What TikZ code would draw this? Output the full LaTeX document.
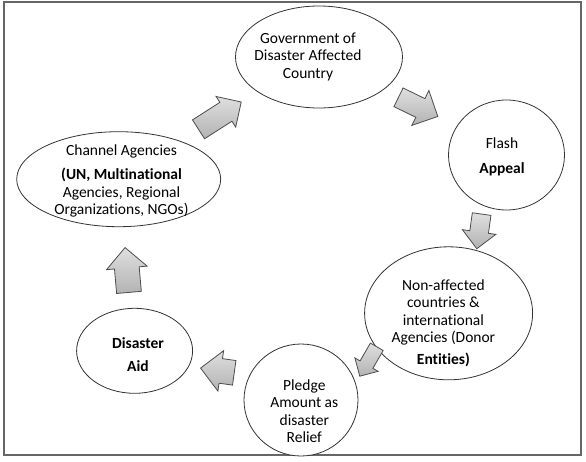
\documentclass[tikz,border=0pt]{standalone}
\usepackage{fontspec}
\setmainfont{Carlito}[Ligatures=NoCommon]
\usetikzlibrary{shapes.geometric,shapes.arrows}

\tikzset{
  bubble/.style={ellipse, draw=black!80, line width=0.8pt, fill=white, inner sep=0pt},
  txt/.style={align=center, font=\fontsize{15.5}{17.5}\selectfont, inner sep=0pt},
  blockarrow/.style={single arrow, draw=black!70, line width=0.8pt,
    top color=gray!25, bottom color=gray!60, inner xsep=0pt,
    minimum width=0pt, anchor=tip},
}

\begin{document}
\begin{tikzpicture}[x=1pt, y=-1pt]
\useasboundingbox (0,0) rectangle (586,461);
\draw[black!60, line width=1.5pt] (4,2) rectangle (581,455);

% the six stages of the cycle
\node[bubble, minimum width=167pt, minimum height=102pt] (gov) at (319,57) {};
\node[bubble, minimum width=116pt, minimum height=110pt] (flash) at (506.5,155) {};
\node[bubble, minimum width=168pt, minimum height=133pt] (donor) at (448.6,313.3) {};
\node[bubble, minimum width=114pt, minimum height=112pt] (pledge) at (301,400) {};
\node[bubble, minimum width=116pt, minimum height=85pt] (aid) at (134.6,350.8) {};
\node[bubble, minimum width=204pt, minimum height=95pt] (channel) at (118.7,179.2) {};

% texts
\node[txt] (govt) at (308,56.5) {Government of\\Disaster Affected\\Country};
\node[txt] (flasht) at (502,156.5) {Flash\\[7.5pt]\textbf{Appeal}};
\node[txt] (donort) at (443.4,323) {Non-affected\\countries \&\\international\\Agencies (Donor\\[4pt]\textbf{Entities)}};
\node[txt] (pledget) at (304.3,411.2) {Pledge\\Amount as\\disaster\\Relief};
\node[txt] (aidt) at (138,354.7) {\textbf{Disaster}\\[5.5pt]\textbf{Aid}};
\node[txt] (channelt) at (121.5,181.4) {Channel Agencies\\[6.5pt]\textbf{(UN, Multinational}\\Agencies, Regional\\Organizations, NGOs)};

% block arrows between the stages
\node[blockarrow, minimum height=50.7pt, inner ysep=10.8pt, single arrow head extend=7pt, rotate=32.6] (a1) at (241.7,101.7) {};
\node[blockarrow, minimum height=43.7pt, inner ysep=10pt, single arrow head extend=9pt, rotate=-26] (a2) at (438.3,116.7) {};
\node[blockarrow, minimum height=35pt, inner ysep=9pt, single arrow head extend=7.5pt, rotate=-98] (a3) at (476.7,249.3) {};
\node[blockarrow, minimum height=34pt, inner ysep=7pt, single arrow head extend=6pt, rotate=-120] (a4) at (359.5,376.7) {};
\node[blockarrow, minimum height=34pt, inner ysep=12pt, single arrow head extend=8pt, rotate=172] (a5) at (200,368) {};
\node[blockarrow, minimum height=45pt, inner ysep=12pt, single arrow head extend=8pt, rotate=95] (a6) at (125,247) {};
\end{tikzpicture}
\end{document}
